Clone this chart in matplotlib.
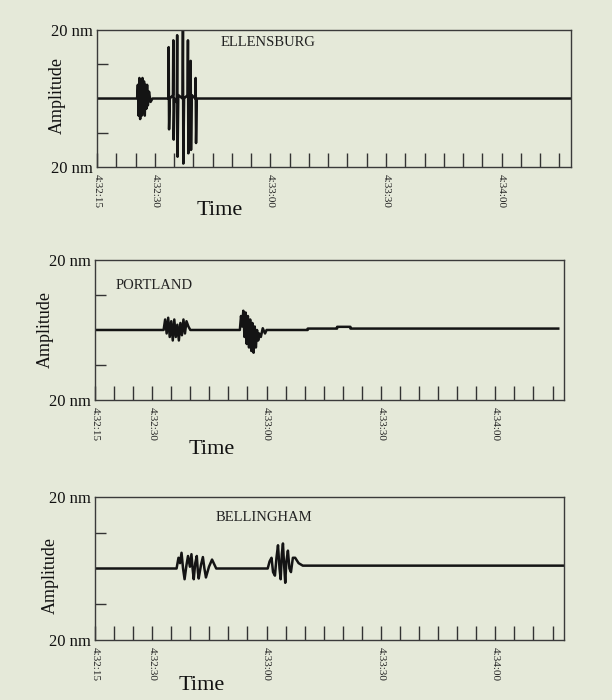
import numpy as np
import matplotlib.pyplot as plt

plt.rcParams['font.family'] = ['Liberation Serif', 'DejaVu Serif']

# time axis: seconds after 4:32:15
TICK_SEC = [0, 15, 45, 75, 105]
TICK_LABELS = ['4:32:15', '4:32:30', '4:33:00', '4:33:30', '4:34:00']

# Ellensburg trace (amplitude in nm)
ell_t = [0, 10.4, 10.6, 10.8, 11.0, 11.2, 11.4, 11.6, 11.8, 12.0, 12.2, 12.4, 12.6, 12.8, 13.0, 13.2, 13.5, 13.9, 14.4,
         18.5, 18.6, 18.7, 18.9, 19.7, 19.8, 19.9, 20.1, 20.7, 20.8, 20.9, 21.1, 22.2, 22.3, 22.4, 22.6,
         23.5, 23.6, 23.7, 23.9, 24.2, 24.3, 24.4, 24.6, 25.5, 25.6, 25.7, 25.9, 123]
ell_a = [0, 0, 4, -5, 6, -6, 5, -5, 6, -4, 5, -5, 4, -3, 4, -2, 2, -1, 0,
         0, 15, -9, 0, 1, 17, -12, 0, -1, 18.5, -17, 1, 0, 20, -19, 0,
         1, 17, -16, 0, -1, 11, -15, 1, 0, 6, -13, 0, 0]

# Portland trace
por_t = [0, 18.0, 18.4, 18.8, 19.2, 19.6, 20.0, 20.4, 20.8, 21.2, 21.6, 22.0, 22.4, 22.8, 23.2, 23.6, 24.0, 24.5, 25.0,
         38.0, 38.3, 38.6, 38.9, 39.2, 39.5, 39.8, 40.1, 40.4, 40.7, 41.0, 41.3, 41.6, 41.9, 42.2, 42.5, 42.8, 43.1,
         43.5, 44.0, 44.6, 45.0,
         55.8, 55.8, 63.5, 63.5, 67.0, 67.0, 121.5]
por_a = [0, 0, 3, -1, 3.5, -2, 2.5, -3, 3, -2, 1.5, -3, 2, -1.5, 3, -1, 2.5, 1, 0,
         0, 4, 1, 5.5, -2, 5, -4, 4, -5, 3, -6, 2, -6.5, 1, -5, 0, -3, -1,
         -2, 0.5, -1, 0,
         0, 0.4, 0.4, 0.9, 0.9, 0.4, 0.4]

# Bellingham trace
bel_t = [0, 21.4, 21.9, 22.3, 22.7, 23.1, 23.5, 24.0, 24.4, 24.9, 25.3, 25.6, 25.9, 26.3, 26.7, 27.0, 27.2, 27.8,
         28.3, 28.7, 29.1, 29.9, 30.7, 31.8,
         45.3, 45.8, 46.3, 46.7, 47.2, 47.6, 48.0, 48.4, 48.7, 49.0, 49.3, 49.6, 49.9, 50.2, 50.6, 51.0, 51.4,
         51.9, 52.5, 53.4, 54.5, 54.9, 123]
bel_a = [0, 0, 3, 1.5, 4.4, 0, -3, 1, 3.5, 0.5, 4, 0, -3, 1.5, 3.5, -1, -2.8, 1,
         3.2, 0, -2.5, 0.5, 2.5, 0,
         0, 2, 3, -1, -2, 3, 6.5, 0, -3, 4, 7, 1, -4, 2, 5, 0, -1,
         3, 3, 1.5, 0.8, 0.8, 0.8]

BG = '#e5e9d9'
INK = '#141414'


def draw_panel(ax, t, a, station, sx, sy, ha):
  ax.set_facecolor(BG)
  ax.plot(t, a, color=INK, lw=1.8)
  ax.set_xlim(0, 123)
  ax.set_ylim(-20, 20)
  for s in ax.spines.values():
    s.set_color('#3a3a3a')
    s.set_linewidth(1.0)

  # time ticks: inward every 5 s, labels rotated down
  ax.set_xticks(TICK_SEC)
  ax.set_xticklabels(TICK_LABELS, rotation=-90, fontsize=8, color='#222')
  ax.set_xticks(np.arange(0, 123, 5), minor=True)
  ax.tick_params(axis='x', which='both', direction='in', length=10,
                 width=1.0, color='#333', pad=5)

  # amplitude ticks
  ax.set_yticks([-20, 20])
  ax.set_yticklabels(['20 nm', '20 nm'], fontsize=12, color='#111')
  ax.set_yticks([-10, 10], minor=True)
  ax.tick_params(axis='y', which='major', length=0, pad=3)
  ax.tick_params(axis='y', which='minor', direction='in', length=8,
                 width=1.0, color='#333')

  ax.text(sx, sy, station, transform=ax.transAxes, fontsize=10.5,
          ha=ha, va='center', color='#222')


fig = plt.figure(figsize=(6.12, 7), dpi=100, facecolor=BG)

ax1 = fig.add_axes([0.1585, 0.7614, 0.7745, 0.1957])
ax2 = fig.add_axes([0.1552, 0.4286, 0.7663, 0.2000])
ax3 = fig.add_axes([0.1552, 0.0857, 0.7663, 0.2043])

draw_panel(ax1, ell_t, ell_a, 'ELLENSBURG', 0.36, 0.91, 'center')
draw_panel(ax2, por_t, por_a, 'PORTLAND', 0.043, 0.82, 'left')
draw_panel(ax3, bel_t, bel_a, 'BELLINGHAM', 0.36, 0.86, 'center')

# axis titles
fig.text(220/612, 1 - 210/700, 'Time', fontsize=16, ha='center', va='center', color='#111')
fig.text(212/612, 1 - 450/700, 'Time', fontsize=16, ha='center', va='center', color='#111')
fig.text(202/612, 1 - 686/700, 'Time', fontsize=16, ha='center', va='center', color='#111')
fig.text(57/612, 1 - 95/700, 'Amplitude', fontsize=13, rotation=90, ha='center', va='center', color='#111')
fig.text(45/612, 1 - 330/700, 'Amplitude', fontsize=13, rotation=90, ha='center', va='center', color='#111')
fig.text(50/612, 1 - 575/700, 'Amplitude', fontsize=13, rotation=90, ha='center', va='center', color='#111')

fig.savefig('out.png', dpi=100, facecolor=BG)
